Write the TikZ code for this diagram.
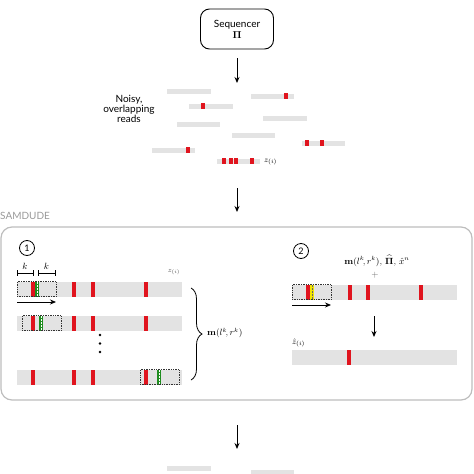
\documentclass[tikz,border=0pt]{standalone}
\usepackage{amsmath}
\usepackage[no-math]{fontspec}
\setmainfont{Lato}
\usetikzlibrary{arrows.meta,decorations.pathreplacing}
\definecolor{bargray}{HTML}{E3E3E3}
\definecolor{mkred}{HTML}{E0141E}
\definecolor{mkgreen}{HTML}{1E8C1E}
\definecolor{mkyellow}{HTML}{F2E600}
\definecolor{framegray}{HTML}{BDBDBD}
\tikzset{
  readbar/.style={fill=bargray,draw=none},
  redmark/.style={fill=mkred,draw=none},
  flow/.style={-{Stealth[length=6pt,width=5pt]},line width=0.9pt},
  winbox/.style={draw=black!80,densely dotted,line width=0.7pt},
  numcirc/.style={circle,draw,line width=0.8pt,minimum size=15pt,inner sep=0pt,font=\small},
  lbl/.style={inner sep=1pt},
}
\newcommand{\readseg}[4]{% x1, x2, y, name
  \path[readbar] (#1,#3-2.5) rectangle (#2,#3+2.5);
  \coordinate (#4) at (#2,#3);}
\newcommand{\rmk}[2]{\path[redmark] (#1-1.6,#2-3) rectangle (#1+1.6,#2+3);}
\newcommand{\bigbar}[3]{% x1,x2,yc
  \path[readbar] (#1,#3-7.5) rectangle (#2,#3+7.5);}
\newcommand{\bigred}[2]{\path[redmark] (#1-1.8,#2-7.5) rectangle (#1+1.8,#2+7.5);}
\newcommand{\biggreen}[2]{\path[fill=mkgreen] (#1-1.6,#2-7.5) rectangle (#1+1.6,#2+7.5);
  \draw[white,densely dotted,line width=0.5pt] (#1,#2-7.5) -- (#1,#2+7.5);}
\newcommand{\bigyellow}[2]{\path[fill=mkyellow] (#1-1.6,#2-7.5) rectangle (#1+1.6,#2+7.5);
  \draw[black!60,densely dotted,line width=0.5pt] (#1,#2-7.5) -- (#1,#2+7.5);}
\begin{document}
\begin{tikzpicture}[x=1pt,y=-1pt]
\useasboundingbox (0,0) rectangle (474,474);
% sequencer
\node[draw,rounded corners=9pt,line width=0.9pt,minimum width=73pt,minimum height=40pt,align=center,font=\normalsize,inner sep=2pt] (seq) at (237,29) {Sequencer\\[-1pt]$\boldsymbol{\Pi}$};
\coordinate (a1e) at (237,83);
\draw[flow] (237,58) -- (a1e);
% reads label
\node[align=center,font=\normalsize,inner sep=0pt] (noisy) at (129,109) {Noisy,\\[-2pt]overlapping\\[-2pt]reads};
% reads
\readseg{167}{211}{91}{rA}
\readseg{251}{294}{96}{rB} \rmk{286}{96}
\readseg{189}{233}{106}{rC} \rmk{203}{106}
\readseg{263}{307}{118}{rD}
\readseg{177}{220}{124}{rE}
\readseg{232}{275}{135}{rF}
\readseg{302}{345}{143}{rG} \rmk{307}{143} \rmk{322}{143}
\readseg{152}{195}{150}{rH} \rmk{188}{150}
\readseg{217}{260}{161}{rI} \rmk{224}{161} \rmk{231}{161} \rmk{236}{161} \rmk{252}{161}
\node[anchor=west,lbl,font=\footnotesize] (zi) at (263,162) {$z_{(i)}$};
% arrow 2
\coordinate (a2s) at (237,188);
\coordinate (a2e) at (237,212);
\draw[flow] (a2s) -- (a2e);
% SAMDUDE frame
\node[anchor=west,inner sep=0pt,text=black!40,font=\normalsize] (samdude) at (0,216) {SAMDUDE};
\draw[framegray,line width=1.2pt,rounded corners=11pt] (1,227) rectangle (472,400);
% panel 1
\node[numcirc] (c1) at (27,248) {1};
\draw[line width=0.7pt] (17,270) -- (17,276) (17,273) -- (33,273) (33,270) -- (33,276);
\draw[line width=0.7pt] (38,270) -- (38,276) (38,273) -- (55,273) (55,270) -- (55,276);
\node[lbl,font=\small] (k1) at (25,266) {$k$};
\node[lbl,font=\small] (k2) at (46.5,266) {$k$};
\node[lbl,font=\scriptsize,text=black!70] (z1) at (174,272) {$z_{(i)}$};
% row 1
\bigbar{17}{182}{289}
\bigred{33}{289}\biggreen{37}{289}
\bigred{74}{289}\bigred{93}{289}\bigred{146}{289}
\node[winbox,minimum width=39pt,minimum height=15pt,inner sep=0pt] (w1) at (36.5,289) {};
\coordinate (w1a) at (17,302);
\coordinate (w1b) at (56,302);
\draw[flow,line width=0.8pt] (w1a) -- (w1b);
% row 2
\bigbar{17}{182}{323}
\bigred{33}{323}\biggreen{41}{323}
\bigred{74}{323}\bigred{93}{323}\bigred{146}{323}
\node[winbox,minimum width=39pt,minimum height=15pt,inner sep=0pt] (w2) at (41.5,323) {};
% dots
\foreach \yy in {335,343.5,352} \fill (100,\yy) circle (1.3pt);
% row 3
\bigbar{17}{182}{377}
\bigred{33}{377}\bigred{74}{377}\bigred{93}{377}
\bigred{146}{377}\biggreen{159}{377}
\node[winbox,minimum width=39pt,minimum height=15pt,inner sep=0pt] (w3) at (159.5,377) {};
% brace
\coordinate (b1) at (191,288);
\coordinate (b2) at (191,380);
\draw[line width=0.8pt,decorate,decoration={brace,amplitude=11pt}] (b1) -- (b2);
\node[anchor=west,lbl,font=\small] (mlr) at (206,333) {$\mathbf{m}(l^k\!,r^k)$};
% panel 2
\node[numcirc] (c2) at (301,251) {2};
\node[lbl,font=\small] (minputs) at (377,261) {$\mathbf{m}(l^k\!,r^k),\, \widehat{\boldsymbol{\Pi}},\, \hat{x}^n$};
\node[lbl,font=\small,text=black!60] (plus) at (375,275) {$+$};
\bigbar{292}{457}{292}
\bigred{308}{292}\bigyellow{312}{292}
\bigred{350}{292}\bigred{368}{292}\bigred{421}{292}
\node[winbox,minimum width=39pt,minimum height=15pt,inner sep=0pt] (w4) at (311.5,292) {};
\coordinate (w4a) at (292,305);
\coordinate (w4b) at (331,305);
\draw[flow,line width=0.8pt] (w4a) -- (w4b);
\coordinate (a3s) at (374,316);
\coordinate (a3e) at (374,337);
\draw[flow] (a3s) -- (a3e);
\node[anchor=west,lbl,font=\footnotesize] (zhat) at (291,343) {$\hat{z}_{(i)}$};
\bigbar{292}{457}{357}
\bigred{349}{357}
% bottom
\coordinate (a4s) at (237,425);
\coordinate (a4e) at (237,449);
\draw[flow] (a4s) -- (a4e);
\path[readbar] (167,465.5) rectangle (211,470.5);
\path[readbar] (251,470) rectangle (294,475);
\end{tikzpicture}
\end{document}
